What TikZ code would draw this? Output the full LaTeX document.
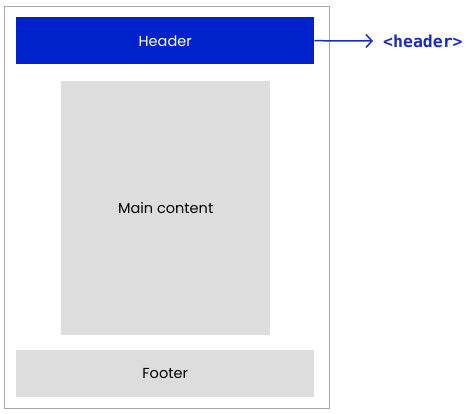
\documentclass[tikz,border=0pt]{standalone}
\usepackage{fontspec}
\setmainfont{Poppins}
\newfontfamily\codefont{DejaVu Sans Mono}
\usetikzlibrary{arrows.meta}
\definecolor{hdrblue}{HTML}{0022CC}
\definecolor{boxgray}{HTML}{DDDDDD}
\definecolor{framegray}{HTML}{A8A8A8}
\definecolor{arrowblue}{HTML}{1A2BC0}
\begin{document}
\begin{tikzpicture}[x=1pt,y=-1pt,
  region/.style={fill=boxgray,draw=none,inner sep=0pt,font=\fontsize{14.5}{17}\selectfont,text=black},
  lbl/.style={font=\codefont\bfseries\fontsize{16.5}{19}\selectfont,text=arrowblue,inner sep=0pt,anchor=west}]
\useasboundingbox (0,0) rectangle (474,413);
\node[draw=framegray,line width=1pt,minimum width=325pt,minimum height=402pt,anchor=north west,inner sep=0pt] (frame) at (4,6) {};
\node[region,fill=hdrblue,text=white,minimum width=298pt,minimum height=47pt,anchor=north west] (header) at (16,17) {Header};
\node[region,minimum width=209pt,minimum height=254pt,anchor=north west] (main) at (61,81) {Main content};
\node[region,minimum width=298pt,minimum height=47pt,anchor=north west] (footer) at (16,350) {Footer};
\node[lbl] (tag) at (383,41) {<header>};
\draw[arrowblue,line width=1.5pt,-{Straight Barb[length=6pt,width=13pt]}] (header.east) -- ([xshift=-10pt]tag.west);
\end{tikzpicture}
\end{document}
